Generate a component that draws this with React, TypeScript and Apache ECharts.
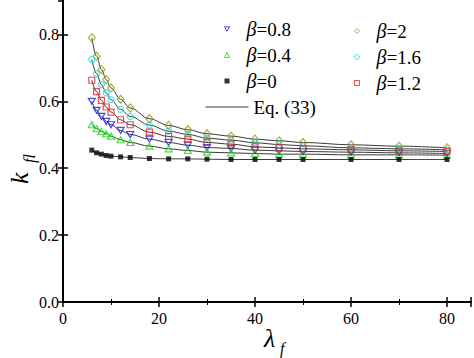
import React, { useEffect, useRef } from "react";
import * as echarts from "echarts";

const lambdaF = [6, 7, 8, 9, 10, 12, 14, 18, 22, 26, 30, 35, 40, 45, 50, 60, 70, 80];
const beta2 = [0.790, 0.735, 0.695, 0.665, 0.640, 0.606, 0.580, 0.548, 0.528, 0.515, 0.503, 0.496, 0.487, 0.482, 0.477, 0.470, 0.466, 0.461];
const beta16 = [0.725, 0.683, 0.650, 0.625, 0.605, 0.576, 0.555, 0.529, 0.511, 0.501, 0.490, 0.484, 0.476, 0.471, 0.467, 0.461, 0.458, 0.455];
const beta12 = [0.663, 0.629, 0.603, 0.583, 0.568, 0.545, 0.530, 0.508, 0.495, 0.487, 0.477, 0.472, 0.464, 0.461, 0.458, 0.455, 0.452, 0.450];
const beta08 = [0.600, 0.573, 0.555, 0.540, 0.530, 0.513, 0.501, 0.487, 0.477, 0.469, 0.462, 0.459, 0.454, 0.452, 0.450, 0.448, 0.446, 0.444];
const beta04 = [0.530, 0.518, 0.510, 0.503, 0.496, 0.485, 0.477, 0.466, 0.458, 0.453, 0.448, 0.446, 0.444, 0.442, 0.442, 0.440, 0.440, 0.439];
const beta0 = [0.454, 0.446, 0.442, 0.438, 0.436, 0.434, 0.432, 0.429, 0.428, 0.428, 0.427, 0.426, 0.426, 0.426, 0.426, 0.426, 0.426, 0.426];

const xTicks = [0, 20, 40, 60, 80];
const yTicks = [0, 0.2, 0.4, 0.6, 0.8];
const fitName = "Eq. (33)";

const SERIF = "'Liberation Serif', 'Times New Roman', serif";

type Spec = { name: string; values: number[]; symbol: string; size: number | number[]; color: string; filled?: boolean };

const specs: Spec[] = [
  { name: "β=0.8", values: beta08, symbol: "path://M0,0L10,0L5,9Z", size: [7, 6], color: "#1c1ce0" },
  { name: "β=0.4", values: beta04, symbol: "triangle", size: [7, 6], color: "#10dd10" },
  { name: "β=0", values: beta0, symbol: "rect", size: 5, color: "#000000", filled: true },
  { name: "β=2", values: beta2, symbol: "diamond", size: [7, 8], color: "#9a9a12" },
  { name: "β=1.6", values: beta16, symbol: "circle", size: 6, color: "#10e0e0" },
  { name: "β=1.2", values: beta12, symbol: "rect", size: 6, color: "#f02020" },
];

const legendText = {
  fontFamily: SERIF,
  fontSize: 19,
  color: "#000",
  padding: [0, 0, 0, 12],
  rich: {
    b: { fontFamily: SERIF, fontStyle: "italic", fontSize: 20, lineHeight: 22, color: "#000" },
    r: { fontFamily: SERIF, fontSize: 19, lineHeight: 22, color: "#000" },
  },
};

const fmtLegend = (name: string) => (name === fitName ? name : `{b|β}{r|${name.slice(1)}}`);

const legendItem = (name: string) => {
  const s = specs.find((p) => p.name === name)!;
  return {
    name,
    itemStyle: s.filled
      ? { color: s.color, borderWidth: 0 }
      : { color: "rgba(255,255,255,0)", borderColor: s.color, borderWidth: 1 },
  };
};

export default function App() {
  const ref = useRef<HTMLDivElement>(null);
  useEffect(() => {
    if (!ref.current) return;
    const chart = echarts.init(ref.current, null, { renderer: "svg" });
    const axisLine = { show: true, lineStyle: { color: "#000", width: 2 } };
    const xCommon = {
      type: "value",
      min: 0,
      max: 85,
      interval: 20,
      axisLine,
      axisTick: { show: true, inside: true, length: 5, lineStyle: { color: "#000", width: 1.5 } },
      minorTick: { show: true, splitNumber: 2, length: 3, lineStyle: { color: "#000", width: 1 } },
      splitLine: { show: false },
      minorSplitLine: { show: false },
    };
    const yCommon = {
      type: "value",
      min: 0,
      max: 0.9,
      interval: 0.2,
      axisLine,
      axisTick: { show: true, inside: true, length: 5, lineStyle: { color: "#000", width: 1.5 } },
      splitLine: { show: false },
    };
    const lineSeries = specs.map((s) => ({
      type: "line",
      name: fitName,
      data: lambdaF.map((x, i) => [x, s.values[i]]),
      smooth: 0.35,
      smoothMonotone: "x",
      symbol: "none",
      lineStyle: { color: "#3a3a3a", width: 1 },
      itemStyle: { color: "#3a3a3a" },
      z: 2,
      silent: true,
    }));
    const scatterSeries = specs.map((s) => ({
      type: "scatter",
      name: s.name,
      data: lambdaF.map((x, i) => [x, s.values[i]]),
      symbol: s.symbol,
      symbolSize: s.size,
      itemStyle: s.filled
        ? { color: s.color }
        : { color: "rgba(255,255,255,0)", borderColor: s.color, borderWidth: 1.2 },
      z: 3,
    }));
    const italic = { fontFamily: SERIF, fontStyle: "italic", fill: "#000", verticalAlign: "middle", align: "left" };
    chart.setOption({
      animation: false,
      backgroundColor: "#fff",
      grid: { left: 63, right: 3, top: 1, bottom: 56 },
      xAxis: [
        {
          ...xCommon,
          position: "bottom",
          axisLabel: {
            color: "#000",
            fontFamily: SERIF,
            fontSize: 16,
            margin: 8,
            showMaxLabel: false,
            formatter: (v: number) => (xTicks.includes(v) ? String(v) : ""),
          },
        },
        { ...xCommon, position: "top", axisLabel: { show: false } },
      ],
      yAxis: [
        {
          ...yCommon,
          position: "left",
          axisLabel: {
            color: "#000",
            fontFamily: SERIF,
            fontSize: 16,
            margin: 4,
            showMaxLabel: false,
            formatter: (v: number) => {
              const t = yTicks.find((k) => Math.abs(k - v) < 1e-9);
              return t === undefined ? "" : t.toFixed(1);
            },
          },
        },
        { ...yCommon, position: "right", axisLabel: { show: false } },
      ],
      legend: [
        {
          data: ["β=0.8", "β=0.4", "β=0"].map(legendItem),
          orient: "vertical",
          left: 224,
          top: 19,
          itemWidth: 5,
          itemHeight: 5,
          itemGap: 6,
          padding: 0,
          formatter: fmtLegend,
          textStyle: legendText,
          selectedMode: false,
        },
        {
          data: [{ name: fitName, itemStyle: { opacity: 0 }, lineStyle: { color: "#3a3a3a", width: 1 } }],
          orient: "vertical",
          left: 205,
          top: 96,
          itemWidth: 43,
          itemHeight: 10,
          padding: 0,
          formatter: fmtLegend,
          textStyle: { fontFamily: SERIF, fontSize: 19, color: "#000", lineHeight: 22 },
          selectedMode: false,
        },
        {
          data: ["β=2", "β=1.6", "β=1.2"].map(legendItem),
          orient: "vertical",
          left: 354,
          top: 21,
          itemWidth: 5,
          itemHeight: 5,
          itemGap: 6,
          padding: 0,
          formatter: fmtLegend,
          textStyle: legendText,
          selectedMode: false,
        },
      ],
      graphic: [
        { type: "text", x: 264, y: 338, style: { ...italic, text: "λ", fontSize: 26 } },
        { type: "text", x: 280, y: 348, style: { ...italic, text: "f", fontSize: 16 } },
        { type: "text", x: 19, y: 184, rotation: Math.PI / 2, style: { ...italic, text: "k", fontSize: 26 } },
        { type: "text", x: 29, y: 163, rotation: Math.PI / 2, style: { ...italic, text: "fl", fontSize: 16 } },
      ],
      series: [...lineSeries, ...scatterSeries],
    });
    return () => chart.dispose();
  }, []);
  return <div ref={ref} style={{ position: "fixed", left: 0, top: 0, width: 474, height: 358 }} />;
}
